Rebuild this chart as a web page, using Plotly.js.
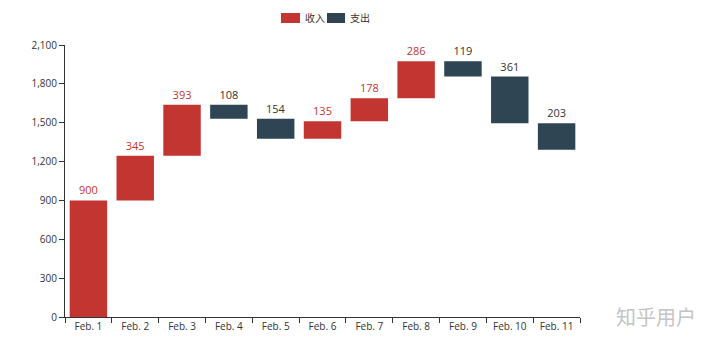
<!DOCTYPE html>
<html>
<head>
<meta charset="utf-8">
<script src="https://cdn.plot.ly/plotly-3.0.1.min.js"></script>
<style>html,body{margin:0;padding:0;background:#fff;}#chart{width:720px;height:342px;}</style>
</head>
<body>
<div id="chart"></div>
<script>
const categories = ['Feb. 1','Feb. 2','Feb. 3','Feb. 4','Feb. 5','Feb. 6','Feb. 7','Feb. 8','Feb. 9','Feb. 10','Feb. 11'];
const income  = [900, 345, 393, null, null, 135, 178, 286, null, null, null];
const expense = [null, null, null, 108, 154, null, null, null, 119, 361, 203];
const seriesNames = ['收入', '支出'];
const colors = ['#c23531', '#2f4554'];
const labelColors = ['#c23531', '#333333'];

// running totals -> base of each floating bar
const incomeBase = [], expenseBase = [];
let total = 0;
for (let i = 0; i < categories.length; i++) {
  if (income[i] != null) { incomeBase.push(total); expenseBase.push(null); total += income[i]; }
  else { total -= expense[i]; expenseBase.push(total); incomeBase.push(null); }
}

const font = 'Open Sans, Noto Sans CJK SC, sans-serif';
function lbl(c){ return {color:c, size:11, family:font}; }
const traces = [
  {type:'bar', name:seriesNames[0], x:categories, y:income, base:incomeBase,
   marker:{color:colors[0]}, width:0.8,
   text:income.map(v=>v==null?'':String(v)), textposition:'outside', cliponaxis:false,
   textfont:lbl(labelColors[0]), outsidetextfont:lbl(labelColors[0]), insidetextfont:lbl(labelColors[0]),
   hoverinfo:'x+y', showlegend:false},
  {type:'bar', name:seriesNames[1], x:categories, y:expense, base:expenseBase,
   marker:{color:colors[1]}, width:0.8,
   text:expense.map(v=>v==null?'':String(v)), textposition:'outside', cliponaxis:false,
   textfont:lbl(labelColors[1]), outsidetextfont:lbl(labelColors[1]), insidetextfont:lbl(labelColors[1]),
   hoverinfo:'x+y', showlegend:false}
];

// custom legend (pixel layout converted to paper coords)
const L = 65, W = 515, T = 45, H = 272;
const px = x => (x - L) / W;
const py = y => (T + H - y) / H;
const legendItems = [
  {x0:281, x1:300, tx:303, name:seriesNames[0], color:colors[0]},
  {x0:327, x1:345, tx:348, name:seriesNames[1], color:colors[1]}
];
const shapes = legendItems.map(it => ({
  type:'rect', xref:'paper', yref:'paper', x0:px(it.x0), x1:px(it.x1), y0:py(23), y1:py(13),
  fillcolor:it.color, line:{width:0}
}));
const annotations = legendItems.map(it => ({
  text:it.name, xref:'paper', yref:'paper', x:px(it.tx), y:py(18), xanchor:'left', yanchor:'middle',
  showarrow:false, font:{size:10, color:'#333', family:'Noto Sans CJK SC, sans-serif'}
}));
annotations.push({text:'知乎用户', xref:'paper', yref:'paper', x:px(656), y:py(316), xanchor:'center', yanchor:'middle',
  showarrow:false, font:{size:20, color:'#c4c4c4', family:'Noto Sans CJK SC'}});

const layout = {
  width:720, height:342,
  margin:{l:L, r:720-L-W, t:T, b:342-T-H},
  paper_bgcolor:'#fff', plot_bgcolor:'#fff',
  barmode:'overlay',
  font:{family:font, color:'#333', size:10},
  showlegend:false,
  xaxis:{type:'category', showline:true, linecolor:'#333', linewidth:1,
         ticks:'outside', tickson:'boundaries', ticklen:5, tickcolor:'#333',
         showgrid:false, tickfont:{size:10, color:'#333'}, fixedrange:true},
  yaxis:{range:[0,2100], dtick:300, tickformat:',', showline:true, linecolor:'#333', linewidth:1,
         ticks:'outside', ticklen:5, tickcolor:'#333', showgrid:false, zeroline:false,
         tickfont:{size:10, color:'#333'}, fixedrange:true},
  shapes:shapes,
  annotations:annotations
};

Plotly.newPlot('chart', traces, layout, {displayModeBar:false});
</script>
</body>
</html>
